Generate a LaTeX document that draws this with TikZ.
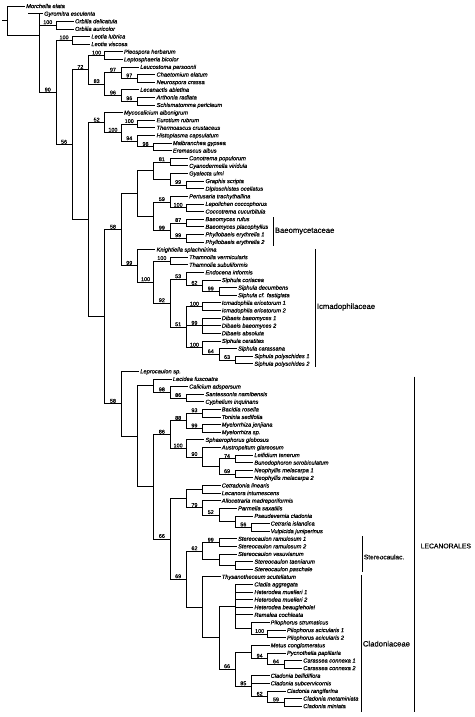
\documentclass[tikz,border=0pt]{standalone}
\usepackage{fontspec}
\setmainfont{Liberation Sans}
\newfontfamily\taxfont[FakeBold=0.4]{Liberation Sans}
\usepackage{tikz}
\usetikzlibrary{positioning}

\begin{document}
\begin{tikzpicture}[
  x = 1pt, y = -7.61pt,
  taxon/.style     = {anchor=west, inner sep=1pt, text height=4.1pt, text depth=0pt,
                      font=\taxfont\fontsize{5.7}{6}\selectfont\itshape},
  branch/.style    = {line width=0.65pt, black},
  boot/.style      = {pos=.75, above, inner sep=0.6pt, font=\taxfont\fontsize{5.4}{6}\selectfont},
  bar/.style       = {line width=1pt, black},
  cladename/.style = {inner sep=0.5pt, font=\taxfont\fontsize{7.7}{9}\selectfont}
]
  \useasboundingbox (0,0.2116) rectangle (474,94.43);

  % Taxa, one row each
  \node[taxon] (morel)   at (25,1)    {Morchella elata};
  \node[taxon] (gyrom)   at (43,2)    {Gyromitra esculenta};
  \node[taxon] (orbdel)  at (73.9,3)  {Orbilia delicatula};
  \node[taxon] (orbaur)  at (73.9,4)  {Orbilia auricolor};
  \node[taxon] (leolub)  at (90.2,5)  {Leotia lubrica};
  \node[taxon] (leovis)  at (90.2,6)  {Leotia viscosa};
  \node[taxon] (pleher)  at (122.8,7) {Pleospora herbarum};
  \node[taxon] (lepbic)  at (122.8,8) {Leptosphaeria bicolor};
  \node[taxon] (leuper)  at (139.1,9) {Leucostoma persoonii};
  \node[taxon] (chaela)  at (155.4,10) {Chaetomium elatum};
  \node[taxon] (neucra)  at (155.4,11) {Neurospora crassa};
  \node[taxon] (lecabi)  at (139.1,12) {Lecanactis abietina};
  \node[taxon] (artrad)  at (155.4,13) {Arthonia radiata};
  \node[taxon] (schper)  at (155.4,14) {Schismatomma pericleum};
  \node[taxon] (mycalb)  at (122.8,15) {Mycocalicium albonigrum};
  \node[taxon] (eurrub)  at (155.4,16) {Eurotium rubrum};
  \node[taxon] (thecru)  at (155.4,17) {Thermoascus crustaceus};
  \node[taxon] (hiscap)  at (155.4,18) {Histoplasma capsulatum};
  \node[taxon] (malgyp)  at (171.7,19) {Malbranchea gypsea};
  \node[taxon] (erealb)  at (171.7,20) {Eremascus albus};
  \node[taxon] (conpop)  at (188,21)   {Conotrema populorum};
  \node[taxon] (cyavir)  at (188,22)   {Cyanodermella viridula};
  \node[taxon] (gyaulm)  at (188,23)   {Gyalecta ulmi};
  \node[taxon] (grascr)  at (204.3,24) {Graphis scripta};
  \node[taxon] (dipoce)  at (204.3,25) {Diploschistes ocellatus};
  \node[taxon] (pertra)  at (188,26)   {Pertusaria trachythallina};
  \node[taxon] (lepcoc)  at (204.3,27) {Lepolichen coccophorus};
  \node[taxon] (coccuc)  at (204.3,28) {Coccotrema cucurbitula};
  \node[taxon] (baeruf)  at (204.3,29) {Baeomyces rufus};
  \node[taxon] (baepla)  at (204.3,30) {Baeomyces placophyllus};
  \node[taxon] (phyery1) at (204.3,31) {Phyllobaeis erythrella 1};
  \node[taxon] (phyery2) at (204.3,32) {Phyllobaeis erythrella 2};
  \node[taxon] (knispl)  at (155.4,33) {Knightiella splachnirima};
  \node[taxon] (thaver)  at (188,34)   {Thamnolia vermicularis};
  \node[taxon] (thasub)  at (188,35)   {Thamnolia subuliformis};
  \node[taxon] (endinf)  at (204.3,36) {Endocena informis};
  \node[taxon] (sipcor)  at (220.6,37) {Siphula coriacea};
  \node[taxon] (sipdec)  at (236.9,38) {Siphula decumbens};
  \node[taxon] (sipfas)  at (236.9,39) {Siphula cf. fastigiata};
  \node[taxon] (icmeri1) at (220.6,40) {Icmadophila ericetorum 1};
  \node[taxon] (icmeri2) at (220.6,41) {Icmadophila ericetorum 2};
  \node[taxon] (dibbae1) at (220.6,42) {Dibaeis baeomyces 1};
  \node[taxon] (dibbae2) at (220.6,43) {Dibaeis baeomyces 2};
  \node[taxon] (dibabs)  at (220.6,44) {Dibaeis absoluta};
  \node[taxon] (sipcer)  at (220.6,45) {Siphula ceratites};
  \node[taxon] (sipcar)  at (236.9,46) {Siphula carassana};
  \node[taxon] (sippol1) at (253.2,47) {Siphula polyschides 1};
  \node[taxon] (sippol2) at (253.2,48) {Siphula polyschides 2};
  \node[taxon] (lepsp)   at (139.1,49) {Leprocaulon sp.};
  \node[taxon] (lecfus)  at (171.7,50) {Lecidea fuscoatra};
  \node[taxon] (calads)  at (188,51)   {Calicium adspersum};
  \node[taxon] (sannam)  at (204.3,52) {Santessonia namibensis};
  \node[taxon] (cypinq)  at (204.3,53) {Cyphelium inquinans};
  \node[taxon] (bacros)  at (220.6,54) {Bacidia rosella};
  \node[taxon] (tonsed)  at (220.6,55) {Toninia sedifolia};
  \node[taxon] (myejen)  at (220.6,56) {Myelorrhiza jenjiana};
  \node[taxon] (myesp)   at (220.6,57) {Myelorrhiza sp.};
  \node[taxon] (sphglo)  at (204.3,58) {Sphaerophorus globosus};
  \node[taxon] (ausgla)  at (220.6,59) {Austropeltum glareosum};
  \node[taxon] (leiten)  at (253.2,60) {Leifidium tenerum};
  \node[taxon] (bunscr)  at (253.2,61) {Bunodophoron scrobiculatum};
  \node[taxon] (neomel1) at (253.2,62) {Neophyllis melacarpa 1};
  \node[taxon] (neomel2) at (253.2,63) {Neophyllis melacarpa 2};
  \node[taxon] (cetlin)  at (220.6,64) {Cetradonia linearis};
  \node[taxon] (lecint)  at (220.6,65) {Lecanora intumescens};
  \node[taxon] (allmad)  at (220.6,66) {Allocetraria madreporiformis};
  \node[taxon] (parsax)  at (236.9,67) {Parmelia saxatilis};
  \node[taxon] (psecla)  at (253.2,68) {Pseudevernia cladonia};
  \node[taxon] (cetisl)  at (269.5,69) {Cetraria islandica};
  \node[taxon] (vuljun)  at (269.5,70) {Vulpicida juniperinus};
  \node[taxon] (sterac1) at (236.9,71) {Stereocaulon ramulosum 1};
  \node[taxon] (sterac2) at (236.9,72) {Stereocaulon ramulosum 2};
  \node[taxon] (steves)  at (236.9,73) {Stereocaulon vesuvianum};
  \node[taxon] (stetae)  at (253.2,74) {Stereocaulon taeniarum};
  \node[taxon] (stepas)  at (253.2,75) {Stereocaulon paschale};
  \node[taxon] (thysct)  at (220.6,76) {Thysanotheceum scutellatum};
  \node[taxon] (claagg)  at (253.2,77) {Cladia aggregata};
  \node[taxon] (hetmue1) at (253.2,78) {Heterodea muelleri 1};
  \node[taxon] (hetmue2) at (253.2,79) {Heterodea muelleri 2};
  \node[taxon] (hetbea)  at (253.2,80) {Heterodea beaugleholei};
  \node[taxon] (ramcoc)  at (253.2,81) {Ramalea cochleata};
  \node[taxon] (pilstr)  at (269.5,82) {Pilophorus strumaticus};
  \node[taxon] (pilaci1) at (285.8,83) {Pilophorus acicularis 1};
  \node[taxon] (pilaci2) at (285.8,84) {Pilophorus acicularis 2};
  \node[taxon] (metcon)  at (269.5,85) {Metus conglomeratus};
  \node[taxon] (pycpap)  at (285.8,86) {Pycnothelia papillaria};
  \node[taxon] (carcon1) at (302.1,87) {Carassea connexa 1};
  \node[taxon] (carcon2) at (302.1,88) {Carassea connexa 2};
  \node[taxon] (clabel)  at (269.5,89) {Cladonia bellidiflora};
  \node[taxon] (clasub)  at (269.5,90) {Cladonia subcervicornis};
  \node[taxon] (claran)  at (285.8,91) {Cladonia rangiferina};
  \node[taxon] (clamet)  at (302.1,92) {Cladonia metaminiata};
  \node[taxon] (clamin)  at (302.1,93) {Cladonia miniata};

  % Internal nodes
  \coordinate (base) at (2,2.905);
  \coordinate (root) at (7,2.905);
  \coordinate (gyro) at (28,2);
  \coordinate (A)    at (39.6,4.81);
  \coordinate (orb)  at (55.9,3.5);
  \coordinate (B)    at (55.9,12.36);
  \coordinate (leo)  at (72.2,5.5);
  \coordinate (C)    at (72.2,19.22);
  \coordinate (n72)  at (88.5,9.375);
  \coordinate (pl)   at (104.8,7.5);
  \coordinate (n83)  at (104.8,11.25);
  \coordinate (n97a) at (121.1,9.75);
  \coordinate (n97b) at (137.4,10.5);
  \coordinate (n96a) at (121.1,12.75);
  \coordinate (n96b) at (137.4,13.5);
  \coordinate (D)    at (88.5,29.07);
  \coordinate (n52)  at (104.8,16.31);
  \coordinate (n100c) at (121.1,17.63);
  \coordinate (n100d) at (137.4,16.5);
  \coordinate (n94)  at (137.4,18.75);
  \coordinate (n98)  at (153.7,19.5);
  \coordinate (F)    at (104.8,41.82);
  \coordinate (E)    at (121.1,30.38);
  \coordinate (E1)   at (137.4,25.63);
  \coordinate (E2)   at (153.7,22.63);
  \coordinate (n81)  at (170,21.5);
  \coordinate (E4)   at (170,23.75);
  \coordinate (n99g) at (186.3,24.5);
  \coordinate (E3)   at (153.7,28.63);
  \coordinate (n59)  at (170,26.75);
  \coordinate (n100l) at (186.3,27.5);
  \coordinate (n99b) at (170,30.5);
  \coordinate (n87)  at (186.3,29.5);
  \coordinate (n99p) at (186.3,31.5);
  \coordinate (H)    at (137.4,35.13);
  \coordinate (I)    at (153.7,37.27);
  \coordinate (n100t) at (170,34.5);
  \coordinate (J)    at (170,40.03);
  \coordinate (n53)  at (186.3,36.88);
  \coordinate (n62s) at (202.6,37.75);
  \coordinate (n99s) at (218.9,38.5);
  \coordinate (n51)  at (186.3,43.19);
  \coordinate (n100i) at (202.6,40.5);
  \coordinate (n99d) at (202.6,43);
  \coordinate (n100x) at (202.6,45.88);
  \coordinate (n64s) at (218.9,46.75);
  \coordinate (n63)  at (235.2,47.5);
  \coordinate (G)    at (121.1,53.26);
  \coordinate (K)    at (137.4,57.52);
  \coordinate (L)    at (153.7,50.88);
  \coordinate (n98c) at (170,51.75);
  \coordinate (n86c) at (186.3,52.5);
  \coordinate (M)    at (153.7,64.17);
  \coordinate (N)    at (170,57.31);
  \coordinate (n88)  at (186.3,55.5);
  \coordinate (n93)  at (202.6,54.5);
  \coordinate (n99m) at (202.6,56.5);
  \coordinate (n100s) at (186.3,59.13);
  \coordinate (n90)  at (202.6,60.25);
  \coordinate (O)    at (218.9,61.5);
  \coordinate (n74)  at (235.2,60.5);
  \coordinate (n69n) at (235.2,62.5);
  \coordinate (P)    at (170,71.02);
  \coordinate (Q)    at (186.3,65.72);
  \coordinate (Qa)   at (202.6,64.5);
  \coordinate (n79)  at (202.6,66.94);
  \coordinate (n52p) at (218.9,67.88);
  \coordinate (R)    at (235.2,68.75);
  \coordinate (n56)  at (251.5,69.5);
  \coordinate (S)    at (186.3,76.31);
  \coordinate (n62st) at (202.6,72.63);
  \coordinate (n99st) at (218.9,71.5);
  \coordinate (U)    at (218.9,73.75);
  \coordinate (V)    at (235.2,74.5);
  \coordinate (T)    at (202.6,80);
  \coordinate (W)    at (218.9,84);
  \coordinate (X)    at (235.2,79.88);
  \coordinate (Z)    at (251.5,82.75);
  \coordinate (n100pa) at (267.8,83.5);
  \coordinate (Y)    at (235.2,88.13);
  \coordinate (AA)   at (251.5,85.88);
  \coordinate (n94c) at (267.8,86.75);
  \coordinate (n64c) at (284.1,87.5);
  \coordinate (n85)  at (251.5,90.38);
  \coordinate (n62c) at (267.8,91.75);
  \coordinate (n59c) at (284.1,92.5);

  % Outgroups
  \draw[branch] (base) -- (root);
  \draw[branch] (root) |- (morel.west) (root) |- (A);
  \draw[branch] (gyro) -- (gyrom.west) (A) |- (gyrom.west)
                (A) |- (orb) node[boot] {100} (A) |- (B) node[boot] {90};
  \draw[branch] (orb) |- (orbdel.west) (orb) |- (orbaur.west);
  \draw[branch] (B) |- (leo) node[boot] {100} (B) |- (C) node[boot] {56};
  \draw[branch] (leo) |- (leolub.west) (leo) |- (leovis.west);
  \draw[branch] (C) |- (n72) node[boot] {72} (C) |- (D);
  \draw[branch] (n72) |- (pl) node[boot] {100} (n72) |- (n83) node[boot] {83};
  \draw[branch] (pl) |- (pleher.west) (pl) |- (lepbic.west);
  \draw[branch] (n83) |- (n97a) node[boot] {97} (n83) |- (n96a) node[boot] {96};
  \draw[branch] (n97a) |- (leuper.west) (n97a) |- (n97b) node[boot] {97};
  \draw[branch] (n97b) |- (chaela.west) (n97b) |- (neucra.west);
  \draw[branch] (n96a) |- (lecabi.west) (n96a) |- (n96b) node[boot] {96};
  \draw[branch] (n96b) |- (artrad.west) (n96b) |- (schper.west);
  \draw[branch] (D) |- (n52) node[boot] {52} (D) |- (F);
  \draw[branch] (n52) |- (mycalb.west) (n52) |- (n100c) node[boot] {100};
  \draw[branch] (n100c) |- (n100d) node[boot] {100} (n100c) |- (n94) node[boot] {94};
  \draw[branch] (n100d) |- (eurrub.west) (n100d) |- (thecru.west);
  \draw[branch] (n94) |- (hiscap.west) (n94) |- (n98) node[boot] {98};
  \draw[branch] (n98) |- (malgyp.west) (n98) |- (erealb.west);
  \draw[branch] (F) |- (E) node[boot] {58} (F) |- (G) node[boot] {58};

  % Upper ingroup, Baeomycetaceae and Icmadophilaceae
  \draw[branch] (E) |- (E1) (E) |- (H) node[boot] {99};
  \draw[branch] (E1) |- (E2) (E1) |- (E3);
  \draw[branch] (E2) |- (n81) node[boot] {81} (E2) |- (E4);
  \draw[branch] (n81) |- (conpop.west) (n81) |- (cyavir.west);
  \draw[branch] (E4) |- (gyaulm.west) (E4) |- (n99g) node[boot] {99};
  \draw[branch] (n99g) |- (grascr.west) (n99g) |- (dipoce.west);
  \draw[branch] (E3) |- (n59) node[boot] {59} (E3) |- (n99b) node[boot] {99};
  \draw[branch] (n59) |- (pertra.west) (n59) |- (n100l) node[boot] {100};
  \draw[branch] (n100l) |- (lepcoc.west) (n100l) |- (coccuc.west);
  \draw[branch] (n99b) |- (n87) node[boot] {87} (n99b) |- (n99p) node[boot] {99};
  \draw[branch] (n87) |- (baeruf.west) (n87) |- (baepla.west);
  \draw[branch] (n99p) |- (phyery1.west) (n99p) |- (phyery2.west);
  \draw[branch] (H) |- (knispl.west) (H) |- (I) node[boot] {100};
  \draw[branch] (I) |- (n100t) node[boot] {100} (I) |- (J) node[boot] {92};
  \draw[branch] (n100t) |- (thaver.west) (n100t) |- (thasub.west);
  \draw[branch] (J) |- (n53) node[boot] {53} (J) |- (n51) node[boot] {51};
  \draw[branch] (n53) |- (endinf.west) (n53) |- (n62s) node[boot] {62};
  \draw[branch] (n62s) |- (sipcor.west) (n62s) |- (n99s) node[boot] {99};
  \draw[branch] (n99s) |- (sipdec.west) (n99s) |- (sipfas.west);
  \draw[branch] (n51) |- (n100i) node[boot] {100} (n51) |- (n99d) node[boot] {99}
                (n51) |- (n100x) node[boot] {100};
  \draw[branch] (n100i) |- (icmeri1.west) (n100i) |- (icmeri2.west);
  \draw[branch] (n99d) |- (dibbae1.west) (n99d) |- (dibbae2.west) (n99d) |- (dibabs.west);
  \draw[branch] (n100x) |- (sipcer.west) (n100x) |- (n64s) node[boot] {64};
  \draw[branch] (n64s) |- (sipcar.west) (n64s) |- (n63) node[boot] {63};
  \draw[branch] (n63) |- (sippol1.west) (n63) |- (sippol2.west);

  % Lecanorales
  \draw[branch] (G) |- (lepsp.west) (G) |- (K);
  \draw[branch] (K) |- (L) (K) |- (M);
  \draw[branch] (L) |- (lecfus.west) (L) |- (n98c) node[boot] {98};
  \draw[branch] (n98c) |- (calads.west) (n98c) |- (n86c) node[boot] {86};
  \draw[branch] (n86c) |- (sannam.west) (n86c) |- (cypinq.west);
  \draw[branch] (M) |- (N) node[boot] {86} (M) |- (P) node[boot] {66};
  \draw[branch] (N) |- (n88) node[boot] {88} (N) |- (n100s) node[boot] {100};
  \draw[branch] (n88) |- (n93) node[boot] {93} (n88) |- (n99m) node[boot] {99};
  \draw[branch] (n93) |- (bacros.west) (n93) |- (tonsed.west);
  \draw[branch] (n99m) |- (myejen.west) (n99m) |- (myesp.west);
  \draw[branch] (n100s) |- (sphglo.west) (n100s) |- (n90) node[boot] {90};
  \draw[branch] (n90) |- (ausgla.west) (n90) |- (O);
  \draw[branch] (O) |- (n74) node[boot] {74} (O) |- (n69n) node[boot] {69};
  \draw[branch] (n74) |- (leiten.west) (n74) |- (bunscr.west);
  \draw[branch] (n69n) |- (neomel1.west) (n69n) |- (neomel2.west);
  \draw[branch] (P) |- (Q) (P) |- (S) node[boot] {69};
  \draw[branch] (Q) |- (Qa) (Q) |- (n79) node[boot] {79};
  \draw[branch] (Qa) |- (cetlin.west) (Qa) |- (lecint.west);
  \draw[branch] (n79) |- (allmad.west) (n79) |- (n52p) node[boot] {52};
  \draw[branch] (n52p) |- (parsax.west) (n52p) |- (R);
  \draw[branch] (R) |- (psecla.west) (R) |- (n56) node[boot] {56};
  \draw[branch] (n56) |- (cetisl.west) (n56) |- (vuljun.west);

  % Stereocaulaceae and Cladoniaceae
  \draw[branch] (S) |- (n62st) node[boot] {62} (S) |- (T);
  \draw[branch] (n62st) |- (n99st) node[boot] {99} (n62st) |- (U);
  \draw[branch] (n99st) |- (sterac1.west) (n99st) |- (sterac2.west);
  \draw[branch] (U) |- (steves.west) (U) |- (V);
  \draw[branch] (V) |- (stetae.west) (V) |- (stepas.west);
  \draw[branch] (T) |- (thysct.west) (T) |- (W);
  \draw[branch] (W) |- (X) (W) |- (Y) node[boot] {66};
  \draw[branch] (X) |- (claagg.west) (X) |- (hetmue1.west) (X) |- (hetmue2.west)
                (X) |- (hetbea.west) (X) |- (ramcoc.west) (X) |- (Z);
  \draw[branch] (Z) |- (pilstr.west) (Z) |- (n100pa) node[boot] {100};
  \draw[branch] (n100pa) |- (pilaci1.west) (n100pa) |- (pilaci2.west);
  \draw[branch] (Y) |- (AA) (Y) |- (n85) node[boot] {85};
  \draw[branch] (AA) |- (metcon.west) (AA) |- (n94c) node[boot] {94};
  \draw[branch] (n94c) |- (pycpap.west) (n94c) |- (n64c) node[boot] {64};
  \draw[branch] (n64c) |- (carcon1.west) (n64c) |- (carcon2.west);
  \draw[branch] (n85) |- (clabel.west) (n85) |- (clasub.west) (n85) |- (n62c) node[boot] {62};
  \draw[branch] (n62c) |- (claran.west) (n62c) |- (n59c) node[boot] {59};
  \draw[branch] (n59c) |- (clamet.west) (n59c) |- (clamin.west);

  % Clade bars and names
  \coordinate (baeotop) at (273,28.73);
  \coordinate (baeobot) at (273,32.54);
  \coordinate (baeomid) at (273,30.57);
  \coordinate (icmtop)  at (315,32.9);
  \coordinate (icmbot)  at (315,48.45);
  \coordinate (icmmid)  at (315,40.55);
  \coordinate (stetop)  at (362,70.7);
  \coordinate (stebot)  at (362,75.4);
  \coordinate (stemid)  at (362,73.4);
  \coordinate (cladtop) at (361,75.8);
  \coordinate (cladbot) at (361,93.8);
  \coordinate (cladmid) at (361,84.8);
  \coordinate (lectop)  at (414,49.7);
  \coordinate (lecbot)  at (414,93.8);
  \coordinate (lecmid)  at (414,71.96);

  \draw[bar] (baeotop) -- (baeobot);
  \draw[bar] (icmtop) -- (icmbot);
  \draw[bar] (stetop) -- (stebot);
  \draw[bar] (cladtop) -- (cladbot);
  \draw[bar] (lectop) -- (lecbot);

  \node[cladename, right=1.2pt of baeomid] (baeo) {Baeomycetaceae};
  \node[cladename, right=1.2pt of icmmid] (icma) {Icmadophilaceae};
  \node[cladename, right=1.2pt of stemid, font=\taxfont\fontsize{6.6}{7}\selectfont] (ster) {Stereocaulac.};
  \node[cladename, right=1.2pt of cladmid] (clad) {Cladoniaceae};
  \node[cladename, right=6pt of lecmid, font=\taxfont\fontsize{6.8}{8}\selectfont] (lecan) {LECANORALES};

\end{tikzpicture}
\end{document}
